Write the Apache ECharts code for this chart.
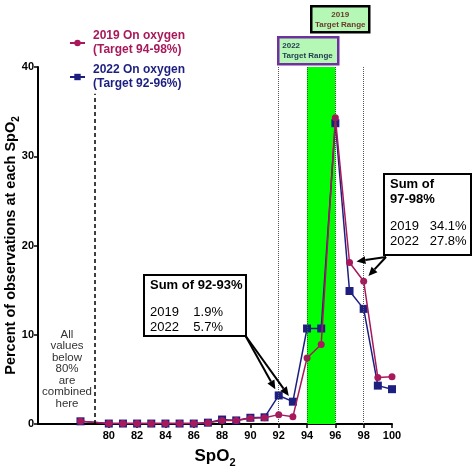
<!DOCTYPE html>
<html>
<head>
<meta charset="utf-8">
<script src="https://cdn.jsdelivr.net/npm/echarts@6/dist/echarts.min.js"></script>
<style>
  html, body { margin: 0; padding: 0; background: #fff; }
  #chart { width: 474px; height: 468px; }
</style>
</head>
<body>
<div id="chart"></div>
<script>
// SpO2 values (values below 80 are combined at 78)
var spo2 = [78, 80, 81, 82, 83, 84, 85, 86, 87, 88, 89, 90, 91, 92, 93, 94, 95, 96, 97, 98, 99, 100];
var pct2019 = [0.3, 0.05, 0.05, 0.05, 0.05, 0.05, 0.05, 0.05, 0.15, 0.4, 0.4, 0.65, 0.7, 1.05, 0.8, 7.4, 8.9, 34.3, 18.1, 16.0, 5.2, 5.3];
var pct2022 = [0.3, 0.05, 0.05, 0.05, 0.05, 0.05, 0.05, 0.05, 0.15, 0.5, 0.4, 0.7, 0.75, 3.2, 2.5, 10.7, 10.7, 33.7, 14.9, 12.9, 4.3, 3.9];
var xTicks = [80, 82, 84, 86, 88, 90, 92, 94, 96, 98, 100];
var targetBand = [94, 96];
var dottedAt = [92, 98];
var combinedDivider = 79;
var dividerTop = 37;

var name2019 = '2019 On oxygen\n(Target 94-98%)';
var name2022 = '2022 On oxygen\n(Target 92-96%)';
var red = '#a8195c', navy = '#1c1f80';

function pairs(vals) {
    return spo2.map(function (x, i) { return [x, vals[i]]; });
}

var chart = echarts.init(document.getElementById('chart'));

var option = {
    animation: false,
    grid: { left: 38, right: 82, top: 67, bottom: 44, outerBoundsMode: 'none', containLabel: false },
    legend: {
        left: 69, top: 29, orient: 'vertical', padding: 0, itemWidth: 15, itemHeight: 8, itemGap: 6,
        textStyle: { fontFamily: 'Liberation Sans', fontWeight: 'bold', fontSize: 12, lineHeight: 14, padding: [0, 0, 0, 3] },
        data: [
            { name: name2019, textStyle: { color: red } },
            { name: name2022, textStyle: { color: navy } }
        ]
    },
    xAxis: {
        type: 'value', min: 75, max: 100,
        name: 'SpO{sub|2}', nameLocation: 'middle', nameGap: 21, nameMoveOverlap: false,
        nameTextStyle: {
            fontFamily: 'Liberation Sans', fontWeight: 'bold', fontSize: 17, color: '#000',
            rich: { sub: { fontFamily: 'Liberation Sans', fontWeight: 'bold', fontSize: 11, verticalAlign: 'bottom', padding: [12, 0, 0, 0] } }
        },
        axisLine: { lineStyle: { color: '#000', width: 2 } },
        axisTick: { customValues: xTicks, length: 4, lineStyle: { color: '#000', width: 1.5 } },
        axisLabel: { customValues: xTicks, margin: 6, fontFamily: 'Liberation Sans', fontWeight: 'bold', fontSize: 11, color: '#000' },
        splitLine: { show: false }
    },
    yAxis: {
        type: 'value', min: 0, max: 40, interval: 10,
        name: 'Percent of observations at each SpO{sub|2}', nameLocation: 'middle', nameGap: 17, nameMoveOverlap: false,
        nameTextStyle: {
            fontFamily: 'Liberation Sans', fontWeight: 'bold', fontSize: 14.5, color: '#000',
            rich: { sub: { fontFamily: 'Liberation Sans', fontWeight: 'bold', fontSize: 10, verticalAlign: 'bottom', padding: [11, 0, 0, 0] } }
        },
        axisLine: { show: true, lineStyle: { color: '#000', width: 2 } },
        axisTick: { show: true, length: 4, lineStyle: { color: '#000', width: 1.5 } },
        axisLabel: { margin: 4, fontFamily: 'Liberation Sans', fontWeight: 'bold', fontSize: 11, color: '#000' },
        splitLine: { show: false }
    },
    series: [
        {
            name: name2022, type: 'line', data: pairs(pct2022), z: 3,
            symbol: 'rect', symbolSize: 8, color: navy,
            lineStyle: { width: 1.5, color: navy },
            markArea: {
                silent: true,
                itemStyle: { color: '#00ff00' },
                data: [[{ xAxis: targetBand[0] }, { xAxis: targetBand[1] }]]
            },
            markLine: {
                silent: true, symbol: 'none', label: { show: false },
                data: dottedAt.map(function (v) {
                    return { xAxis: v, lineStyle: { color: '#555', type: 'dotted', width: 1 } };
                }).concat(targetBand.map(function (v) {
                    return { xAxis: v, lineStyle: { color: '#1a6a1a', type: 'dotted', width: 1 } };
                })).concat([[
                    { coord: [combinedDivider, 0], lineStyle: { color: '#000', type: [4, 3], width: 1.5 } },
                    { coord: [combinedDivider, dividerTop] }
                ]])
            }
        },
        {
            name: name2019, type: 'line', data: pairs(pct2019), z: 4,
            symbol: 'circle', symbolSize: 7, color: red,
            lineStyle: { width: 1.5, color: red }
        }
    ]
};
chart.setOption(option);

var FF = 'Liberation Sans';
function box(x, y, w, h, lines) {
    return {
        type: 'group', left: x, top: y, z: 50,
        children: [
            { type: 'rect', shape: { x: 0, y: 0, width: w, height: h }, style: { fill: '#fff', stroke: '#000', lineWidth: 2 } },
            { type: 'text', left: 6, top: 4, style: { rich: { b: { fontFamily: FF, fontWeight: 'bold', fontSize: 13, lineHeight: 15 }, n: { fontFamily: FF, fontSize: 13, lineHeight: 15 } }, text: lines, fill: '#000' } }
        ]
    };
}

function arrow(from, pt) {
    var p = chart.convertToPixel({ gridIndex: 0 }, pt);
    var dx = from[0] - p[0], dy = from[1] - p[1];
    var len = Math.sqrt(dx * dx + dy * dy);
    var ux = dx / len, uy = dy / len;
    var tip = [p[0] + ux * 7, p[1] + uy * 7];
    var base = [tip[0] + ux * 9, tip[1] + uy * 9];
    var px = -uy * 4, py = ux * 4;
    return [
        { type: 'line', z: 60, shape: { x1: from[0], y1: from[1], x2: base[0], y2: base[1] }, style: { stroke: '#000', lineWidth: 2 } },
        { type: 'polygon', z: 60, shape: { points: [tip, [base[0] + px, base[1] + py], [base[0] - px, base[1] - py]] }, style: { fill: '#000' } }
    ];
}

var i92 = spo2.indexOf(92), i93 = spo2.indexOf(93), i97 = spo2.indexOf(97), i98 = spo2.indexOf(98);
var graphics = [
    box(143, 274, 102, 61, '{b|Sum of 92-93%}\n\n{n|2019    1.9%}\n{n|2022    5.7%}'),
    box(383, 173, 87, 81, '{b|Sum of}\n{b|97-98%}\n\n{n|2019   34.1%}\n{n|2022   27.8%}'),
    {
        type: 'group', left: 310, top: 5, z: 50,
        children: [
            { type: 'rect', shape: { x: 0, y: 0, width: 58, height: 26 }, style: { fill: '#b5f7b5', stroke: '#000', lineWidth: 2.5 } },
            { type: 'text', x: 29, y: 4, style: { text: '2019\nTarget Range', align: 'center', fontFamily: FF, fontWeight: 'bold', fontSize: 8, lineHeight: 10, fill: '#6b3a2a' } }
        ]
    },
    {
        type: 'group', left: 277, top: 36, z: 50,
        children: [
            { type: 'rect', shape: { x: 0, y: 0, width: 60, height: 27 }, style: { fill: '#b5f7b5', stroke: '#7030a0', lineWidth: 2.5 } },
            { type: 'text', x: 4, y: 4, style: { text: '2022\nTarget Range', fontFamily: FF, fontWeight: 'bold', fontSize: 8, lineHeight: 10, fill: '#1f3a50' } }
        ]
    },
    {
        type: 'text', x: 67, y: 329, z: 50,
        style: { text: 'All\nvalues\nbelow\n80%\nare\ncombined\nhere', align: 'center', fontFamily: FF, fontSize: 11.5, lineHeight: 11.5, fill: '#333' }
    }
].concat(
    arrow([245, 335], [92, pct2022[i92]]),
    arrow([245, 335], [93, pct2022[i93]]),
    arrow([386, 257], [97, pct2019[i97]]),
    arrow([386, 257], [98, pct2019[i98]])
);
chart.setOption({ graphic: graphics });
</script>
</body>
</html>
